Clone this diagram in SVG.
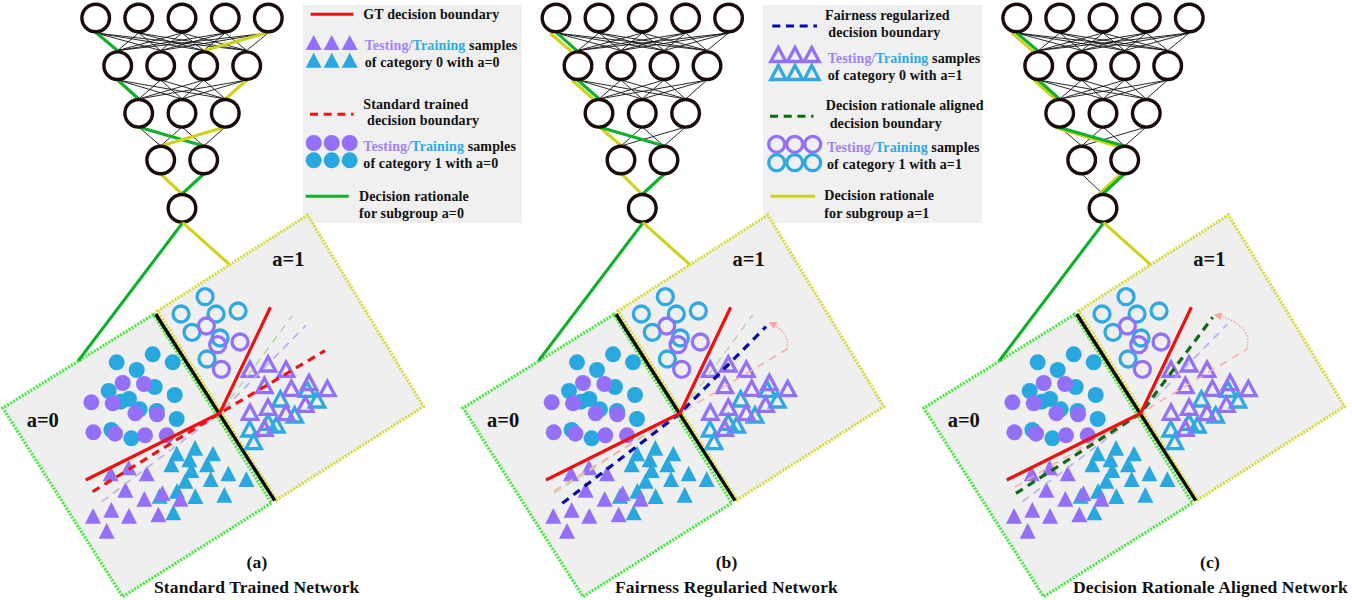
<svg xmlns="http://www.w3.org/2000/svg" xmlns:xlink="http://www.w3.org/1999/xlink" width="1352" height="600" viewBox="0 0 1352 600">
<style>
text{font-family:"Liberation Serif","Times New Roman",serif;font-weight:bold;fill:#111}
.lg{font-size:14px;letter-spacing:.12px}
.ab{font-size:20.5px}
.cap{font-size:17.5px;letter-spacing:.12px}
.te{fill:#a183f5}.tr{fill:#33a9e2}
.n{fill:#fff;stroke:#1a0c0a;stroke-width:3.4}
.thin{fill:none;stroke:#111;stroke-width:.9}
.gr{stroke:#10b02c;stroke-width:3.1;fill:none}
.ye{stroke:#cdd21c;stroke-width:3.1;fill:none}
.bb{fill:#29a8e0}.bp{fill:#9470f8}
.rb{fill:none;stroke:#2fa9e0;stroke-width:10}.rp{fill:none;stroke:#9470f8;stroke-width:10}
.gt{fill:none;stroke:#ee1111;stroke-width:3.2}
.d{fill:none;stroke-width:3.2;stroke-dasharray:8 6}
.p{fill:none;stroke-width:1.6;stroke-dasharray:8 6}
.lgbg{fill:#f0f0f0}
</style>
<defs>
<marker id="ah" viewBox="0 0 10 10" refX="7" refY="5" markerWidth="8" markerHeight="8" orient="auto-start-reverse" markerUnits="userSpaceOnUse"><path d="M0 0L10 5L0 10z" fill="#f8a8a0"/></marker>
<path id="edges" class="thin" d="M95.7 33L117.7 50.5M95.7 33L160.7 50.5M95.7 33L203.7 50.5M95.7 33L246.7 50.5M138.7 33L117.7 50.5M138.7 33L160.7 50.5M138.7 33L203.7 50.5M138.7 33L246.7 50.5M182 33L117.7 50.5M182 33L160.7 50.5M182 33L203.7 50.5M182 33L246.7 50.5M225.3 33L117.7 50.5M225.3 33L160.7 50.5M225.3 33L203.7 50.5M225.3 33L246.7 50.5M268.3 33L117.7 50.5M268.3 33L160.7 50.5M268.3 33L203.7 50.5M268.3 33L246.7 50.5M117.7 80L138.7 99M117.7 80L182 99M117.7 80L225.3 99M160.7 80L138.7 99M160.7 80L182 99M160.7 80L225.3 99M203.7 80L138.7 99M203.7 80L182 99M203.7 80L225.3 99M246.7 80L138.7 99M246.7 80L182 99M246.7 80L225.3 99M138.7 127L160.7 146M138.7 127L203.7 146M182 127L160.7 146M182 127L203.7 146M225.3 127L160.7 146M225.3 127L203.7 146M160.7 174L182 194M203.7 174L182 194"/>
<g id="field">
<path d="M153.5 314.5L2.7 408L122.7 596.7L271.5 503z" fill="#efefef" stroke="#47e83e" stroke-width="3.2" stroke-dasharray="2 1.4"/>
<path d="M157.5 311L307.5 215L423.5 406.5L276.5 500z" fill="#efefef" stroke="#d8da3c" stroke-width="3.2" stroke-dasharray="2 1.4"/>
<g transform="translate(69.7 290) scale(.33333)">
<g class="bb"><circle cx="141" cy="217" r="24"/><circle cx="249" cy="193" r="24"/><circle cx="201" cy="240" r="24"/><circle cx="309" cy="217" r="24"/><circle cx="117" cy="303" r="24"/><circle cx="255" cy="291" r="24"/><circle cx="153" cy="335" r="24"/><circle cx="178" cy="327" r="24"/><circle cx="315" cy="315" r="24"/><circle cx="210" cy="358" r="24"/><circle cx="261" cy="363" r="24"/><circle cx="321" cy="387" r="24"/><circle cx="125" cy="420" r="24"/><circle cx="185" cy="445" r="24"/></g>
<g class="bp"><circle cx="159" cy="279" r="24"/><circle cx="223" cy="282" r="24"/><circle cx="65" cy="337" r="24"/><circle cx="129" cy="340" r="24"/><circle cx="197" cy="370" r="24"/><circle cx="262" cy="373" r="24"/><circle cx="71" cy="427" r="24"/><circle cx="136" cy="431" r="24"/><circle cx="226" cy="436" r="24"/><circle cx="291" cy="436" r="24"/></g>
<g class="rb"><circle cx="406" cy="20" r="24"/><circle cx="334" cy="72" r="24"/><circle cx="439" cy="72" r="24"/><circle cx="505" cy="63" r="24"/><circle cx="367" cy="127" r="24"/><circle cx="451" cy="144" r="24"/><circle cx="412" cy="207" r="24"/></g>
<g class="rp"><circle cx="410" cy="108" r="24"/><circle cx="444" cy="164" r="24"/><circle cx="511" cy="156" r="24"/><circle cx="455" cy="238" r="24"/></g>
<path class="bb" d="M376 450l24 47h-48zM321 467l24 47h-48zM430 467l24 47h-48zM359 485l24 47h-48zM305 500l24 47h-48zM412 500l24 47h-48zM365 517l24 47h-48zM347 549l24 47h-48zM476 527l24 47h-48zM423 544l24 47h-48zM530 544l24 47h-48zM322 579l24 47h-48zM377 595l24 47h-48zM464 591l24 47h-48zM270 594l24 47h-48zM311 644l24 47h-48z"/>
<path class="bp" d="M123 527l24 47h-48zM177 509l24 47h-48zM231 527l24 47h-48zM167 576l24 47h-48zM224 603l24 47h-48zM278 586l24 47h-48zM332 603l24 47h-48zM70 654l24 47h-48zM125 636l24 47h-48zM178 654l24 47h-48zM266 650l24 47h-48zM111 699l24 47h-48z"/>
<path class="rb" d="M632 305l23 43h-46zM742 308l23 43h-46zM675 353l23 43h-46zM620 383l23 43h-46zM595 375l23 43h-46zM540 395l23 43h-46zM552 433l23 43h-46zM712 276l23 43h-46z"/>
<path class="rp" d="M541 216l23 43h-46zM595 200l23 43h-46zM649 216l23 43h-46zM584 265l23 43h-46zM665 273l23 43h-46zM718 256l23 43h-46zM773 274l23 43h-46zM541 345l23 43h-46zM595 330l23 43h-46zM649 346l23 43h-46zM707 321l23 43h-46zM584 393l23 43h-46z"/>
</g>
</g>
<g id="gtb"><path d="M155.7 314L274.7 500.7" fill="none" stroke="#0a0a0a" stroke-width="3.4"/></g>
</defs>

<g id="legend-a">
<rect class="lgbg" x="303" y="5" width="219" height="218"/>
<path d="M310.7 14.3H353.3" fill="none" stroke="#ee1111" stroke-width="3"/>
<text class="lg" x="363.3" y="18.5">GT decision boundary</text>
<path class="bp" d="M313.7 35l8 15h-16zM331.7 35l8 15h-16zM349.7 35l8 15h-16z"/>
<path class="bb" d="M313.7 52.7l8 15h-16zM331.7 52.7l8 15h-16zM349.7 52.7l8 15h-16z"/>
<text class="lg" x="364.7" y="50"><tspan class="te">Testing</tspan><tspan class="te">/</tspan><tspan class="tr">Training</tspan> samples</text>
<text class="lg" x="364.7" y="66.7">of category 0 with a=0</text>
<path d="M310 114.3H353.5" fill="none" stroke="#e8141c" stroke-width="3" stroke-dasharray="8 5.7"/>
<text class="lg" x="363.3" y="108.7">Standard trained</text>
<text class="lg" x="367" y="125.3">decision boundary</text>
<g class="bp"><circle cx="313.7" cy="143" r="8"/><circle cx="331.7" cy="143" r="8"/><circle cx="349.7" cy="143" r="8"/></g>
<g class="bb"><circle cx="313.7" cy="160.3" r="8"/><circle cx="331.7" cy="160.3" r="8"/><circle cx="349.7" cy="160.3" r="8"/></g>
<text class="lg" x="363.3" y="150.7"><tspan class="te">Testing</tspan><tspan class="te">/</tspan><tspan class="tr">Training</tspan> samples</text>
<text class="lg" x="363.3" y="167.7">of category 1 with a=0</text>
<path d="M305.7 196.3H348.7" class="gr"/>
<text class="lg" x="359" y="201.3">Decision rationale</text>
<text class="lg" x="359" y="218.3">for subgroup a=0</text>
</g>

<g id="legend-b">
<rect class="lgbg" x="763" y="5" width="219" height="218"/>
<path d="M772.3 26H817" fill="none" stroke="#0808a8" stroke-width="3" stroke-dasharray="8 5.7"/>
<text class="lg" x="825" y="20">Fairness regularized</text>
<text class="lg" x="828.3" y="37.3">decision boundary</text>
<g fill="none" stroke-width="3.3">
<path stroke="#9470f8" d="M778.3 47.5l7.5 14h-15zM795 47.5l7.5 14h-15zM811.7 47.5l7.5 14h-15z"/>
<path stroke="#2fa9e0" d="M778.3 65.5l7.5 14h-15zM795 65.5l7.5 14h-15zM811.7 65.5l7.5 14h-15z"/>
<g stroke="#9470f8"><circle cx="776.7" cy="144.3" r="8"/><circle cx="794.7" cy="144.3" r="8"/><circle cx="812.7" cy="144.3" r="8"/></g>
<g stroke="#2fa9e0"><circle cx="776.7" cy="162.7" r="8"/><circle cx="794.7" cy="162.7" r="8"/><circle cx="812.7" cy="162.7" r="8"/></g>
</g>
<text class="lg" x="827.7" y="62.7"><tspan class="te">Testing</tspan><tspan class="te">/</tspan><tspan class="tr">Training</tspan> samples</text>
<text class="lg" x="827.7" y="80">of category 0 with a=1</text>
<path d="M770 116.3H813.5" fill="none" stroke="#0c6a14" stroke-width="3" stroke-dasharray="8 5.7"/>
<text class="lg" x="825.7" y="110.3">Decision rationale aligned</text>
<text class="lg" x="829.7" y="127.7">decision boundary</text>
<text class="lg" x="827" y="152.3"><tspan class="te">Testing</tspan><tspan class="te">/</tspan><tspan class="tr">Training</tspan> samples</text>
<text class="lg" x="827" y="169.3">of category 1 with a=1</text>
<path d="M770.7 196.3H815" class="ye"/>
<text class="lg" x="824.3" y="200.3">Decision rationale</text>
<text class="lg" x="824.3" y="217.7">for subgroup a=1</text>
</g>

<g id="connectors">
<use href="#edges"/>
<use href="#edges" x="460.3"/>
<use href="#edges" x="921"/>
<path class="gr" d="M95.7 32.3L117.7 50.7M117.7 80L138.7 99M138.7 127L203.7 146M203.7 174L182 194"/>
<path class="ye" d="M268.3 32.3L203.7 50.7M246.7 80L225.3 99M225.3 127L160.7 146M160.7 174L182 194"/>
<path class="ye" d="M550 33.3L571.7 51.7M571.7 80L593.3 99M599.3 127L621.7 146M621.7 174L641.7 194"/>
<path class="gr" d="M556.7 32.7L576.7 50.7M577.7 80L599.3 99M599.3 127L664.3 146M664.3 174L642.7 194"/>
<path class="ye" d="M1011.7 32.7L1033.3 51.7M1034 80L1055 99M1055 127.3L1120 147.3M1120 175L1099 194"/>
<path class="gr" d="M1016.7 32.7L1037.7 50.7M1038.3 80L1059.3 99M1056.7 126.7L1124.3 146M1124.3 174L1102.7 194"/>
</g>

<g id="panel-a">
<g id="network-a">
<g id="a-n1"><circle class="n" cx="95.7" cy="18" r="13.8"/></g><g id="a-n2"><circle class="n" cx="138.7" cy="18" r="13.8"/></g><g id="a-n3"><circle class="n" cx="182" cy="18" r="13.8"/></g><g id="a-n4"><circle class="n" cx="225.3" cy="18" r="13.8"/></g><g id="a-n5"><circle class="n" cx="268.3" cy="18" r="13.8"/></g>
<g id="a-n6"><circle class="n" cx="117.7" cy="65.7" r="13.8"/></g><g id="a-n7"><circle class="n" cx="160.7" cy="65.7" r="13.8"/></g><g id="a-n8"><circle class="n" cx="203.7" cy="65.7" r="13.8"/></g><g id="a-n9"><circle class="n" cx="246.7" cy="65.7" r="13.8"/></g>
<g id="a-n10"><circle class="n" cx="138.7" cy="113.3" r="13.8"/></g><g id="a-n11"><circle class="n" cx="182" cy="113.3" r="13.8"/></g><g id="a-n12"><circle class="n" cx="225.3" cy="113.3" r="13.8"/></g>
<g id="a-n13"><circle class="n" cx="160.7" cy="160" r="13.8"/></g><g id="a-n14"><circle class="n" cx="203.7" cy="160" r="13.8"/></g>
<g id="a-n15"><circle class="n" cx="182" cy="208.3" r="13.8"/></g>
</g>
<use href="#field"/>
<path class="p" stroke="#b8d8b0" d="M92 492L219.7 413.3L292.3 315.7"/>
<path class="p" stroke="#b8b0ea" d="M101.7 501.7L219.7 413.3L306 325.3"/>
<use href="#gtb"/>
<path class="d" stroke="#e8141c" d="M92.7 491.7L219.7 413.3L325 350.7"/>
<path class="gt" d="M85.7 480L219.7 413.3L270.4 307.3"/>
<path class="gr" d="M182.7 222.7L78.3 360.7"/>
<path class="ye" d="M182.7 222.7L229.3 264.3"/>
<text class="ab" x="26.7" y="427.3">a=0</text>
<text class="ab" x="272.3" y="266">a=1</text>
<text class="cap" x="257" y="568" text-anchor="middle">(a)</text>
<text class="cap" x="154" y="593.3">Standard Trained Network</text>
</g>

<g id="panel-b">
<g id="network-b" transform="translate(460.3 0)">
<g id="b-n1"><circle class="n" cx="95.7" cy="18" r="13.8"/></g><g id="b-n2"><circle class="n" cx="138.7" cy="18" r="13.8"/></g><g id="b-n3"><circle class="n" cx="182" cy="18" r="13.8"/></g><g id="b-n4"><circle class="n" cx="225.3" cy="18" r="13.8"/></g><g id="b-n5"><circle class="n" cx="268.3" cy="18" r="13.8"/></g>
<g id="b-n6"><circle class="n" cx="117.7" cy="65.7" r="13.8"/></g><g id="b-n7"><circle class="n" cx="160.7" cy="65.7" r="13.8"/></g><g id="b-n8"><circle class="n" cx="203.7" cy="65.7" r="13.8"/></g><g id="b-n9"><circle class="n" cx="246.7" cy="65.7" r="13.8"/></g>
<g id="b-n10"><circle class="n" cx="138.7" cy="113.3" r="13.8"/></g><g id="b-n11"><circle class="n" cx="182" cy="113.3" r="13.8"/></g><g id="b-n12"><circle class="n" cx="225.3" cy="113.3" r="13.8"/></g>
<g id="b-n13"><circle class="n" cx="160.7" cy="160" r="13.8"/></g><g id="b-n14"><circle class="n" cx="203.7" cy="160" r="13.8"/></g>
<g id="b-n15"><circle class="n" cx="182" cy="208.3" r="13.8"/></g>
</g>
<use href="#field" x="460.3"/>
<use href="#gtb" x="460.3"/>
<path class="p" stroke="#b8d8b0" d="M554 493L680 413.3L752.7 315"/>
<path class="p" stroke="#f5b0a8" d="M554 491L680 413.3L786.7 349.3"/>
<path d="M786.7 349.3C790 338 783 329 770.7 323.3" fill="none" stroke="#f8a8a0" stroke-width="1.6" stroke-dasharray="1.6 1.6" marker-end="url(#ah)"/>
<path class="d" stroke="#0808a8" d="M562.3 503.3L680 413.3L766 326.7"/>
<path class="gt" d="M546 480L680 413.3L730.7 307.3"/>
<path class="gr" d="M643 222.7L538.6 360.7"/>
<path class="ye" d="M643 222.7L689.6 264.3"/>
<text class="ab" x="487" y="427.3">a=0</text>
<text class="ab" x="732.6" y="266">a=1</text>
<text class="cap" x="726.5" y="568" text-anchor="middle">(b)</text>
<text class="cap" x="615" y="593.3">Fairness Regularied Network</text>
</g>

<g id="panel-c">
<g id="network-c" transform="translate(921 0)">
<g id="c-n1"><circle class="n" cx="95.7" cy="18" r="13.8"/></g><g id="c-n2"><circle class="n" cx="138.7" cy="18" r="13.8"/></g><g id="c-n3"><circle class="n" cx="182" cy="18" r="13.8"/></g><g id="c-n4"><circle class="n" cx="225.3" cy="18" r="13.8"/></g><g id="c-n5"><circle class="n" cx="268.3" cy="18" r="13.8"/></g>
<g id="c-n6"><circle class="n" cx="117.7" cy="65.7" r="13.8"/></g><g id="c-n7"><circle class="n" cx="160.7" cy="65.7" r="13.8"/></g><g id="c-n8"><circle class="n" cx="203.7" cy="65.7" r="13.8"/></g><g id="c-n9"><circle class="n" cx="246.7" cy="65.7" r="13.8"/></g>
<g id="c-n10"><circle class="n" cx="138.7" cy="113.3" r="13.8"/></g><g id="c-n11"><circle class="n" cx="182" cy="113.3" r="13.8"/></g><g id="c-n12"><circle class="n" cx="225.3" cy="113.3" r="13.8"/></g>
<g id="c-n13"><circle class="n" cx="160.7" cy="160" r="13.8"/></g><g id="c-n14"><circle class="n" cx="203.7" cy="160" r="13.8"/></g>
<g id="c-n15"><circle class="n" cx="182" cy="208.3" r="13.8"/></g>
</g>
<use href="#field" x="921"/>
<use href="#gtb" x="921"/>
<path class="p" stroke="#b8b0ea" d="M1022.3 501.7L1140.7 413.3L1227.3 324.3"/>
<path class="p" stroke="#f5b0a8" d="M1015 487L1140.7 413.3L1246.7 349.3"/>
<path d="M1246.7 349.3C1252 332 1238 320 1216 315" fill="none" stroke="#f8a8a0" stroke-width="1.6" stroke-dasharray="1.6 1.6" marker-end="url(#ah)"/>
<path class="d" stroke="#0c6a14" d="M1016 493.3L1140.7 413.3L1212.7 317.3"/>
<path class="gt" d="M1006.7 480L1140.7 413.3L1191.4 307.3"/>
<path class="gr" d="M1103.7 222.7L999.3 360.7"/>
<path class="ye" d="M1103.7 222.7L1150.3 264.3"/>
<text class="ab" x="947.7" y="427.3">a=0</text>
<text class="ab" x="1193.3" y="266">a=1</text>
<text class="cap" x="1210" y="568" text-anchor="middle">(c)</text>
<text class="cap" x="1073" y="593.3">Decision Rationale Aligned Network</text>
</g>
</svg>
